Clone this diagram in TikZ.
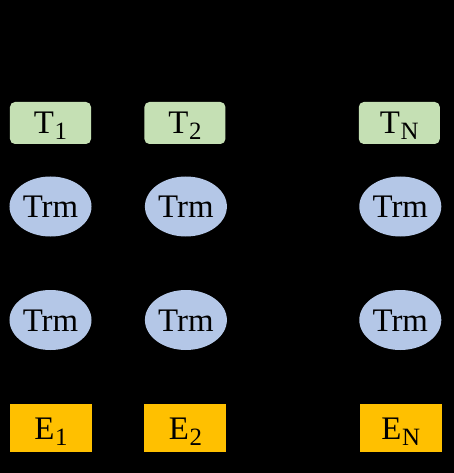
\documentclass[tikz,border=0pt]{standalone}
\usepackage{fontspec}
\setmainfont{Liberation Serif}
\usepackage{xcolor}
\definecolor{tokBack}{HTML}{C5E0B4}
\definecolor{trmBack}{HTML}{B4C7E7}
\definecolor{embBack}{HTML}{FFC000}
\usetikzlibrary{shapes.geometric, positioning}
\newcommand{\lowsub}[1]{\kern0.02em\raisebox{-6bp}{\fontsize{25}{25}\selectfont #1}}
\tikzset{
    lbl/.style={font=\fontsize{33}{33}\selectfont, inner sep=0pt,
                text height=22bp, text depth=0pt, text=black},
    tok/.style={lbl, rectangle, rounded corners=5bp, fill=tokBack,
                minimum width=81bp, minimum height=42bp},
    trm/.style={lbl, ellipse, fill=trmBack,
                minimum width=82bp, minimum height=60bp},
    emb/.style={lbl, rectangle, fill=embBack,
                minimum width=82bp, minimum height=48bp},
}

\begin{document}
\begin{tikzpicture}[x=1bp, y=-1bp]
    \fill[black] (0,0) rectangle (454,473);
    % column 1
    \node[tok] (t1) at (50.5,123) {T\lowsub{1}};
    \node[trm] (a1) at (50.5,206.5) {Trm};
    \node[trm] (b1) at (50.5,320) {Trm};
    \node[emb] (e1) at (51,428) {E\lowsub{1}};
    % column 2
    \node[tok, right=53bp of t1] (t2) {T\lowsub{2}};
    \node[trm, right=53bp of a1] (a2) {Trm};
    \node[trm, right=53bp of b1] (b2) {Trm};
    \node[emb, right=52bp of e1] (e2) {E\lowsub{2}};
    % column N
    \node[tok, right=133bp of t2] (tn) {T\lowsub{N}};
    \node[trm, right=132bp of a2] (an) {Trm};
    \node[trm, right=132bp of b2] (bn) {Trm};
    \node[emb, right=133bp of e2] (en) {E\lowsub{N}};
\end{tikzpicture}
\end{document}
